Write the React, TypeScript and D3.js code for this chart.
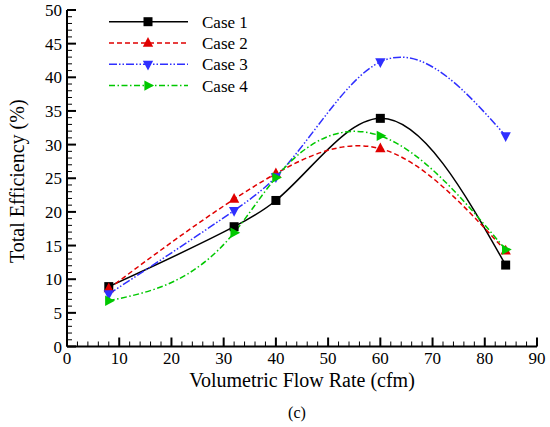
import React, { useEffect, useRef } from "react";
import * as d3 from "d3";

const flowRates = [8, 32, 40, 60, 84];
const case1 = [8.9, 17.8, 21.7, 33.9, 12.1];
const case2 = [8.6, 21.9, 25.7, 29.4, 14.2];
const case3 = [7.8, 20.2, 25.2, 42.3, 31.3];
const case4 = [6.8, 16.9, 25.1, 31.3, 14.4];
const seriesNames = ["Case 1", "Case 2", "Case 3", "Case 4"];
const xTicks = [0, 10, 20, 30, 40, 50, 60, 70, 80, 90];
const yTicks = [0, 5, 10, 15, 20, 25, 30, 35, 40, 45, 50];

const styles = [
	{ color: "#000000", dash: "", marker: "square" },
	{ color: "#e00000", dash: "5,3", marker: "up" },
	{ color: "#2f2fff", dash: "8,2,1.5,2,1.5,2", marker: "down" },
	{ color: "#00c800", dash: "6,2.5,1.5,2.5", marker: "right" },
];

const FONT = "'Liberation Serif', 'Times New Roman', Times, 'DejaVu Serif', serif";

function markerPath(kind: string, s: number) {
	if (kind === "square") return `M${-s},${-s}H${s}V${s}H${-s}Z`;
	const r = s * 1.35;
	const h = r * 0.85;
	if (kind === "up") return `M0,${-r}L${h},${r * 0.6}L${-h},${r * 0.6}Z`;
	if (kind === "down") return `M0,${r}L${h},${-r * 0.6}L${-h},${-r * 0.6}Z`;
	return `M${r},0L${-r * 0.6},${h}L${-r * 0.6},${-h}Z`;
}

// natural cubic spline y(x) as a d3 curve (bezier segments between the data points)
function splineX(context: any) {
	let xs: number[] = [];
	let ys: number[] = [];
	return {
		areaStart() {},
		areaEnd() {},
		lineStart() {
			xs = [];
			ys = [];
		},
		point(px: number, py: number) {
			xs.push(+px);
			ys.push(+py);
		},
		lineEnd() {
			const n = xs.length;
			if (!n) return;
			context.moveTo(xs[0], ys[0]);
			if (n < 3) {
				for (let i = 1; i < n; i++) context.lineTo(xs[i], ys[i]);
				return;
			}
			const h = d3.range(n - 1).map((i) => xs[i + 1] - xs[i]);
			// second derivatives, natural ends
			const a = new Array(n).fill(0);
			const b = new Array(n).fill(1);
			const c = new Array(n).fill(0);
			const r = new Array(n).fill(0);
			for (let i = 1; i < n - 1; i++) {
				a[i] = h[i - 1];
				b[i] = 2 * (h[i - 1] + h[i]);
				c[i] = h[i];
				r[i] = 6 * ((ys[i + 1] - ys[i]) / h[i] - (ys[i] - ys[i - 1]) / h[i - 1]);
			}
			for (let i = 1; i < n; i++) {
				const w = a[i] / b[i - 1];
				b[i] -= w * c[i - 1];
				r[i] -= w * r[i - 1];
			}
			const M = new Array(n).fill(0);
			M[n - 1] = r[n - 1] / b[n - 1];
			for (let i = n - 2; i >= 0; i--) M[i] = (r[i] - c[i] * M[i + 1]) / b[i];
			const slope = (i: number) =>
				i < n - 1
					? (ys[i + 1] - ys[i]) / h[i] - (h[i] * (2 * M[i] + M[i + 1])) / 6
					: (ys[i] - ys[i - 1]) / h[i - 1] + (h[i - 1] * (M[i - 1] + 2 * M[i])) / 6;
			for (let i = 0; i < n - 1; i++) {
				const d = h[i] / 3;
				context.bezierCurveTo(
					xs[i] + d, ys[i] + slope(i) * d,
					xs[i + 1] - d, ys[i + 1] - slope(i + 1) * d,
					xs[i + 1], ys[i + 1]
				);
			}
		},
	};
}

export default function App() {
	const ref = useRef<SVGSVGElement | null>(null);

	useEffect(() => {
		if (!ref.current) return;
		const svg = d3.select(ref.current);
		svg.selectAll("*").remove();

		const x = d3.scaleLinear().domain([0, 90]).range([67, 537]);
		const y = d3.scaleLinear().domain([0, 50]).range([346.5, 10]);

		const allSeries = [case1, case2, case3, case4];

		const line = d3
			.line<[number, number]>()
			.x((d) => x(d[0]))
			.y((d) => y(d[1]))
			.curve(splineX as any);

		allSeries.forEach((vals, i) => {
			const pts = flowRates.map((f, j) => [f, vals[j]] as [number, number]);
			svg.append("path")
				.attr("d", line(pts))
				.attr("fill", "none")
				.attr("stroke", styles[i].color)
				.attr("stroke-width", 1.5)
				.attr("stroke-dasharray", styles[i].dash);
		});

		allSeries.forEach((vals, i) => {
			svg.append("g")
				.selectAll("path")
				.data(flowRates.map((f, j) => [f, vals[j]]))
				.enter()
				.append("path")
				.attr("transform", (d) => `translate(${x(d[0])},${y(d[1])})`)
				.attr("d", markerPath(styles[i].marker, 4.5))
				.attr("fill", styles[i].color);
		});

		// axes
		const axisG = svg.append("g").attr("stroke", "#000");
		axisG.append("line")
			.attr("x1", x(0)).attr("x2", x(90))
			.attr("y1", y(0)).attr("y2", y(0))
			.attr("stroke-width", 2);
		axisG.append("line")
			.attr("x1", x(0)).attr("x2", x(0))
			.attr("y1", y(0)).attr("y2", y(50))
			.attr("stroke-width", 2);

		const xMinor = d3.range(0, 91, 2).filter((v) => v % 10 !== 0);
		const yMinor = d3.range(0, 51, 1).filter((v) => v % 5 !== 0);

		axisG.selectAll(".xmaj").data(xTicks).enter().append("line")
			.attr("x1", (d) => x(d)).attr("x2", (d) => x(d))
			.attr("y1", y(0)).attr("y2", y(0) - 9).attr("stroke-width", 2);
		axisG.selectAll(".xmin").data(xMinor).enter().append("line")
			.attr("x1", (d) => x(d)).attr("x2", (d) => x(d))
			.attr("y1", y(0)).attr("y2", y(0) - 5).attr("stroke-width", 1);
		axisG.selectAll(".ymaj").data(yTicks).enter().append("line")
			.attr("x1", x(0)).attr("x2", x(0) + 9)
			.attr("y1", (d) => y(d)).attr("y2", (d) => y(d)).attr("stroke-width", 2);
		axisG.selectAll(".ymin").data(yMinor).enter().append("line")
			.attr("x1", x(0)).attr("x2", x(0) + 5)
			.attr("y1", (d) => y(d)).attr("y2", (d) => y(d)).attr("stroke-width", 1);

		svg.append("g").selectAll("text").data(xTicks).enter().append("text")
			.attr("x", (d) => x(d)).attr("y", y(0) + 17)
			.attr("text-anchor", "middle")
			.style("font-family", FONT).attr("font-size", 17)
			.text((d) => d);
		svg.append("g").selectAll("text").data(yTicks).enter().append("text")
			.attr("x", x(0) - 5).attr("y", (d) => y(d) + 6)
			.attr("text-anchor", "end")
			.style("font-family", FONT).attr("font-size", 17)
			.text((d) => d);

		svg.append("text")
			.attr("x", (x(0) + x(90)) / 2).attr("y", 387)
			.attr("text-anchor", "middle")
			.style("font-family", FONT).attr("font-size", 20)
			.text("Volumetric Flow Rate (cfm)");
		svg.append("text")
			.attr("transform", `translate(24,${(y(0) + y(50)) / 2 + 3}) rotate(-90)`)
			.attr("text-anchor", "middle")
			.style("font-family", FONT).attr("font-size", 20)
			.text("Total Efficiency (%)");
		svg.append("text")
			.attr("x", 297).attr("y", 418)
			.attr("text-anchor", "middle")
			.style("font-family", FONT).attr("font-size", 16)
			.text("(c)");

		// legend
		const leg = svg.append("g");
		seriesNames.forEach((name, i) => {
			const ly = 21.7 + i * 21.3;
			leg.append("line")
				.attr("x1", 109).attr("x2", 188)
				.attr("y1", ly).attr("y2", ly)
				.attr("stroke", styles[i].color)
				.attr("stroke-width", 1.5)
				.attr("stroke-dasharray", styles[i].dash);
			leg.append("path")
				.attr("transform", `translate(148,${ly})`)
				.attr("d", markerPath(styles[i].marker, 4.5))
				.attr("fill", styles[i].color);
			leg.append("text")
				.attr("x", 202).attr("y", ly + 6)
				.style("font-family", FONT).attr("font-size", 17)
				.text(name);
		});
	}, []);

	return (
		<svg
			ref={ref}
			width={550}
			height={427}
			style={{ position: "absolute", left: 0, top: 0, background: "#fff" }}
		/>
	);
}
